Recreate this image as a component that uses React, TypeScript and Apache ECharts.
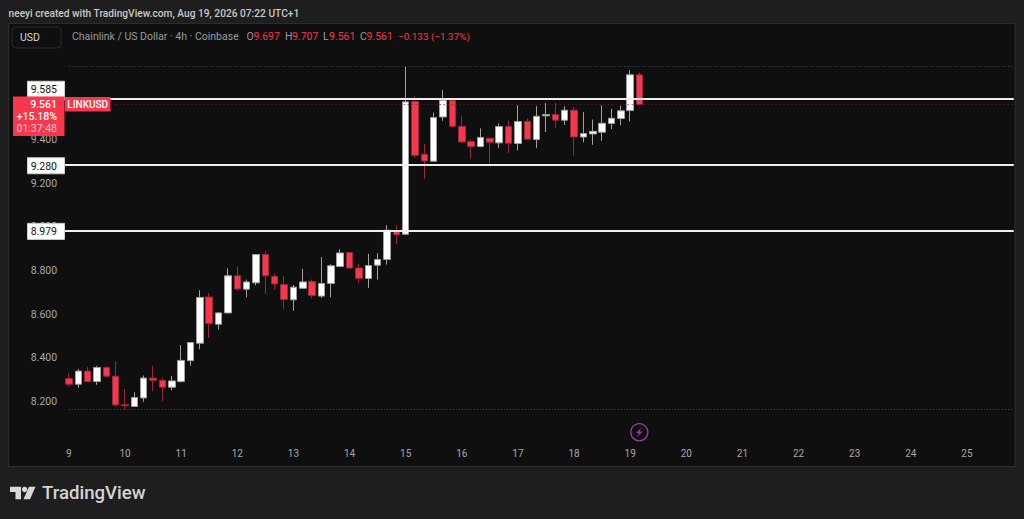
import React, { useEffect, useRef } from "react";
import * as echarts from "echarts";

// [open, close, low, high], 4h candles starting on day 9
const candles: number[][] = [
  [8.304, 8.278, 8.266, 8.33], [8.278, 8.338, 8.261, 8.347], [8.338, 8.29, 8.287, 8.356], [8.29, 8.355, 8.275, 8.361],
  [8.355, 8.315, 8.307, 8.361], [8.315, 8.183, 8.174, 8.383], [8.185, 8.179, 8.162, 8.256], [8.176, 8.217, 8.174, 8.241],
  [8.215, 8.306, 8.197, 8.318], [8.306, 8.296, 8.246, 8.362], [8.296, 8.264, 8.201, 8.309], [8.264, 8.293, 8.25, 8.315],
  [8.29, 8.387, 8.286, 8.457], [8.386, 8.469, 8.362, 8.471], [8.466, 8.676, 8.439, 8.709], [8.678, 8.556, 8.49, 8.697],
  [8.553, 8.605, 8.529, 8.608], [8.605, 8.775, 8.603, 8.81], [8.775, 8.715, 8.706, 8.819], [8.714, 8.747, 8.677, 8.758],
  [8.743, 8.873, 8.731, 8.875], [8.873, 8.775, 8.691, 8.888], [8.773, 8.738, 8.711, 8.786], [8.735, 8.666, 8.623, 8.773],
  [8.665, 8.723, 8.614, 8.733], [8.718, 8.747, 8.716, 8.807], [8.749, 8.685, 8.672, 8.758], [8.682, 8.74, 8.674, 8.861],
  [8.74, 8.821, 8.677, 8.828], [8.818, 8.88, 8.816, 8.897], [8.882, 8.811, 8.809, 8.886], [8.811, 8.763, 8.743, 8.832],
  [8.763, 8.822, 8.72, 8.876], [8.824, 8.85, 8.758, 8.879], [8.85, 8.984, 8.827, 9.007], [8.983, 8.963, 8.923, 9.007],
  [8.966, 9.573, 8.964, 9.737], [9.575, 9.328, 9.316, 9.599], [9.333, 9.302, 9.22, 9.379], [9.301, 9.501, 9.298, 9.524],
  [9.504, 9.581, 9.486, 9.627], [9.581, 9.461, 9.455, 9.591], [9.461, 9.389, 9.387, 9.507], [9.391, 9.368, 9.313, 9.402],
  [9.368, 9.41, 9.365, 9.451], [9.406, 9.388, 9.29, 9.408], [9.385, 9.46, 9.362, 9.474], [9.46, 9.383, 9.339, 9.488],
  [9.382, 9.483, 9.35, 9.558], [9.484, 9.402, 9.4, 9.497], [9.4, 9.507, 9.361, 9.553], [9.509, 9.515, 9.435, 9.568],
  [9.515, 9.489, 9.454, 9.568], [9.489, 9.535, 9.467, 9.553], [9.535, 9.412, 9.327, 9.55], [9.412, 9.428, 9.387, 9.526],
  [9.426, 9.438, 9.376, 9.492], [9.434, 9.475, 9.394, 9.558], [9.474, 9.498, 9.448, 9.541], [9.497, 9.532, 9.466, 9.555],
  [9.533, 9.697, 9.484, 9.718], [9.697, 9.561, 9.561, 9.707],
];
const days = [8, 9, 10, 11, 12, 13, 14, 15, 16, 17, 18, 19, 20, 21, 22, 23, 24, 25];
const hours = [0, 4, 8, 12, 16, 20];
const yTickLabels = ["8.200", "8.400", "8.600", "8.800", "9.000", "9.200", "9.400"];
const levels = ["9.585", "9.280", "8.979"];
const levelLines = [9.589, 9.284, 8.983];
const lastPrice = 9.561;
const rangeHigh = 9.737;
const rangeLow = 8.162;

const FONT = "Roboto, 'Noto Sans', sans-serif";
const RED = "#f7374c";
const categories = days.flatMap((d) => hours.map((h) => `${d}:${h}`));
const blank = [["-", "-", "-", "-"], ["-", "-", "-", "-"], ["-", "-", "-", "-"], ["-", "-", "-", "-"], ["-", "-", "-", "-"], ["-", "-", "-", "-"]];

const txt = (x: number, y: number, text: string, fill: string, size = 10, align = "left", weight: any = 400, z = 100) => ({
  type: "text", x, y, z, silent: true,
  style: { text, fill, font: `${weight} ${size}px ${FONT}`, align, verticalAlign: "middle" },
});
const box = (x: number, y: number, width: number, height: number, fill: string, z = 90, stroke?: string, r = 0) => ({
  type: "rect", x, y, z, silent: true,
  shape: { x: 0, y: 0, width, height, r },
  style: { fill, stroke },
});

export default function App() {
  const ref = useRef<HTMLDivElement>(null);
  useEffect(() => {
    document.body.style.margin = "0";
    const chart = echarts.init(ref.current!, undefined, { renderer: "svg" });
    const hLine = (v: number, color: string, width: number, type: any, from: number) => [
      { coord: [from, v], lineStyle: { color, width, type } },
      { coord: [107, v] },
    ];
    chart.setOption({
      animation: false,
      backgroundColor: "#1e1e1e",
      grid: { left: 8.09, top: 8.8, width: 1010.34, height: 479.6, containLabel: false },
      xAxis: {
        type: "category",
        data: categories,
        boundaryGap: true,
        offset: -39.5,
        axisLine: { show: false },
        axisTick: { show: false },
        splitLine: { show: false },
        axisLabel: {
          color: "#a8a8a8",
          fontFamily: FONT,
          fontSize: 10,
          margin: 0,
          interval: (_: number, v: string) => v.endsWith(":0") && !v.startsWith("8:"),
          formatter: (v: string) => v.split(":")[0],
        },
      },
      yAxis: {
        type: "value",
        min: 7.8,
        max: 10,
        interval: 0.2,
        offset: -49,
        axisLine: { show: false },
        axisTick: { show: false },
        splitLine: { show: false },
        axisLabel: {
          color: "#a8a8a8",
          fontFamily: FONT,
          fontSize: 10.5,
          margin: 0,
          formatter: (v: number) => (yTickLabels.includes(v.toFixed(3)) ? v.toFixed(3) : ""),
        },
      },
      series: [
        {
          type: "candlestick",
          data: [...blank, ...candles],
          barWidth: 7,
          itemStyle: { color: "#ffffff", color0: RED, borderColor: "#a0a0a0", borderColor0: "#97293a", borderWidth: 1 },
          markLine: {
            silent: true,
            symbol: "none",
            animation: false,
            label: { show: false },
            data: [
              hLine(rangeHigh, "#4a4a4a", 1, [1, 2], 6),
              hLine(rangeLow, "#4a4a4a", 1, [1, 2], 6),
              hLine(lastPrice, "#6a2430", 1, [1, 3], 11),
              ...levelLines.map((l) => hLine(l, "#eeeeee", 2, "solid", 5)),
            ],
          },
        },
      ],
    });
    const yOf = (v: number) => chart.convertToPixel({ yAxisIndex: 0 }, v) as number;
    const levelBoxes = levels.flatMap((l, i) => {
      const cy = i === 0 ? yOf(Number(l)) - 10 : yOf(Number(l));
      return [
        box(27.5, cy - 8, 37, 16, "#ffffff", 90, "#cfcfcf"),
        txt(57, cy + 0.5, l, "#111111", 10.5, "right", 400, 100),
      ];
    });
    const yP = yOf(lastPrice);
    chart.setOption({
      graphic: [
        box(8.5, 23.5, 1006.5, 443, "#0f0f0f", -10, "#2c2c2c"),
        txt(8.5, 13.5, "neeyi created with TradingView.com, Aug 19, 2026 07:22 UTC+1", "#c8c8c8", 10.2, "left", 500),
        box(12, 27, 49, 21, "#0f0f0f", 1, "#2a2a2a", 4),
        txt(20, 37.5, "USD", "#d5d5d5", 10.5, "left", 400),
        txt(72, 36.5, "Chainlink / US Dollar · 4h · Coinbase", "#9a9a9a", 10.5),
        txt(246.5, 36.5, "O", "#9a9a9a", 10.5), txt(253.5, 36.5, "9.697", RED, 10.5),
        txt(285, 36.5, "H", "#9a9a9a", 10.5), txt(292, 36.5, "9.707", RED, 10.5),
        txt(323, 36.5, "L", "#9a9a9a", 10.5), txt(329, 36.5, "9.561", RED, 10.5),
        txt(360, 36.5, "C", "#9a9a9a", 10.5), txt(366.5, 36.5, "9.561", RED, 10.5),
        txt(398, 36.5, "−0.133 (−1.37%)", RED, 9.9),
        ...levelBoxes,
        box(13, yP - 8, 51.5, 39.5, RED, 95),
        txt(57, yP, "9.561", "#ffffff", 10.5, "right", 500, 100),
        txt(57, yP + 12, "+15.18%", "#ffffff", 10.5, "right", 500, 100),
        txt(57, yP + 24, "01:37:48", "#ffc9cf", 10.5, "right", 400, 100),
        box(65, yP - 7.5, 45.5, 14.5, RED, 95),
        txt(87.7, yP, "LINKUSD", "#ffffff", 10, "center", 500, 100),
        { type: "circle", z: 100, silent: true, shape: { cx: 639.3, cy: 432.3, r: 8.5 }, style: { fill: "none", stroke: "#9c3ab0", lineWidth: 1.3 } },
        { type: "polygon", z: 100, silent: true, shape: { points: [[641.5, 427.5], [636, 433], [639, 433], [637, 437], [642.5, 431.5], [639.5, 431.5]] }, style: { fill: "#9c3ab0" } },
        { type: "polygon", z: 100, silent: true, shape: { points: [[10, 486.7], [21, 486.7], [21, 499.3], [15.5, 499.3], [15.5, 492], [10, 492]] }, style: { fill: "#d8d8d8" } },
        { type: "circle", z: 100, silent: true, shape: { cx: 24.6, cy: 489.4, r: 2.7 }, style: { fill: "#d8d8d8" } },
        { type: "polygon", z: 100, silent: true, shape: { points: [[29, 486.7], [35.5, 486.7], [30, 499.3], [23.5, 499.3]] }, style: { fill: "#d8d8d8" } },
        txt(42, 493, "TradingView", "#d4d4d4", 18.6, "left", 500),
      ],
    });
    return () => chart.dispose();
  }, []);
  return <div ref={ref} style={{ width: 1024, height: 519, position: "fixed", left: 0, top: 0 }} />;
}
